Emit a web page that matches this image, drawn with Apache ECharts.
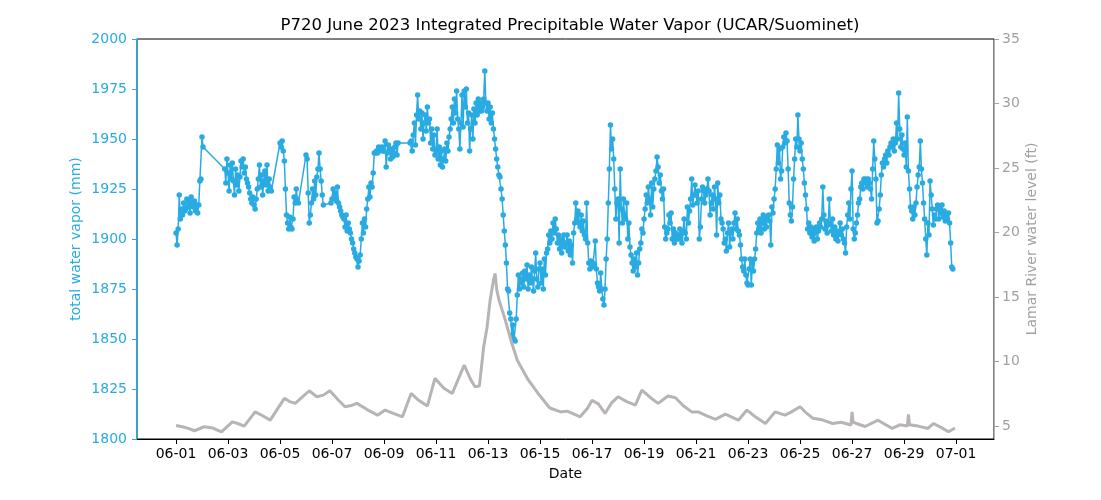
<!DOCTYPE html>
<html>
<head>
<meta charset="utf-8">
<script src="https://cdn.jsdelivr.net/npm/echarts@6/dist/echarts.min.js"></script>
<style>
  html, body { margin: 0; padding: 0; background: #fff; }
  #main { width: 1101px; height: 500px; }
</style>
</head>
<body>
<div id="main"></div>
<script>
  // hourly IPWV (mm), one row per day starting 2023-06-01 00:00, null = no data
  var pwvDays = [
    [1903, 1897, 1905, 1922, 1910, 1915, 1912, 1918, 1914, 1915, 1920, 1916, 1919, 1913, 1921, 1918, 1916, 1919, 1914, 1917, 1913, 1917, 1929, 1930], // 06-01
    [1951, 1946, null, null, null, null, null, null, null, null, null, null, null, null, null, null, null, null, null, null, null, 1935, 1928, 1940],
    [1933, 1924, 1937, 1930, 1938, 1929, 1922, 1935, 1927, 1932, 1924, 1931, 1939, 1936, 1940, 1933, 1936, 1930, 1928, 1926, 1923, 1920, 1918, 1921],
    [1917, 1915, 1920, 1925, 1930, 1937, 1926, 1932, 1922, 1929, 1934, 1927, 1937, 1924, 1930, 1926, 1924, null, null, null, null, null, null, null],
    [1948, 1946, 1949, 1944, 1939, 1925, 1912, 1908, 1905, 1911, 1906, 1905, 1910, 1921, 1918, 1925, 1920, 1918, null, null, null, null, null, null], // 06-05
    [1942, 1940, 1923, 1908, 1912, 1918, 1925, 1920, 1929, 1922, 1931, 1935, 1943, 1935, 1929, 1922, 1917, null, null, null, null, null, null, 1918],
    [1920, 1925, 1921, 1923, 1919, 1926, 1918, 1916, 1914, 1912, 1911, 1910, 1906, 1912, 1904, 1908, 1905, 1903, 1900, 1898, 1895, 1893, 1891, 1890],
    [1886, 1889, 1892, 1900, 1908, 1903, 1910, 1906, 1915, 1920, 1926, 1921, 1928, 1926, 1933, 1943, 1943, 1944, 1943, 1946, 1944, 1945, 1946, 1944],
    [1944, 1949, 1936, 1943, 1947, 1945, 1940, 1945, 1941, 1943, 1946, 1948, 1942, 1948, null, null, null, null, null, null, null, null, null, null],
    [1948, 1949, 1944, 1952, 1958, 1947, 1962, 1972, 1960, 1964, 1955, 1963, 1950, 1958, 1962, 1954, 1966, 1958, 1960, 1948, 1955, 1945, 1952, 1942], // 06-10
    [1944, 1955, 1940, 1946, 1937, 1944, 1936, 1940, 1945, 1939, 1948, 1944, 1951, 1955, 1960, 1966, 1958, 1970, 1963, 1974, 1960, 1955, 1945, 1958],
    [1972, 1956, 1974, 1966, 1975, 1958, 1963, 1944, 1955, 1962, 1950, 1965, 1958, 1968, 1962, 1970, 1964, 1968, 1964, 1966, 1970, 1984, 1968, 1964],
    [1968, 1960, 1966, 1958, 1963, 1955, 1950, 1945, 1940, 1936, 1932, 1931, 1925, 1920, 1912, 1904, 1897, 1888, 1875, 1874, 1863, 1860, 1852, 1857],
    [1850, 1849, 1860, 1872, 1882, 1875, 1880, 1878, 1883, 1876, 1884, 1880, 1887, 1875, 1882, 1878, 1886, 1880, 1874, 1884, 1893, 1880, 1876, 1885],
    [1888, 1878, 1885, 1875, 1890, 1882, 1893, 1895, 1902, 1898, 1904, 1900, 1908, 1903, 1910, 1905, 1898, 1902, 1895, 1900, 1893, 1898, 1902, 1896], // 06-15
    [1898, 1902, 1894, 1899, 1892, 1897, 1888, 1903, 1908, 1918, 1910, 1914, 1908, 1906, 1912, 1904, 1909, 1902, 1900, 1918, 1898, 1888, 1885, 1889],
    [1886, 1888, 1887, 1899, 1885, 1878, 1876, 1874, 1883, 1875, 1870, 1867, 1875, 1890, 1900, 1918, 1935, 1957, 1945, 1950, 1940, 1925, 1910, 1918],
    [1920, 1898, 1935, 1915, 1908, 1920, 1912, 1910, 1918, 1900, 1908, 1896, 1892, 1888, 1884, 1890, 1886, 1893, 1882, 1888, 1895, 1898, 1905, 1903],
    [1910, 1915, 1922, 1918, 1926, 1920, 1912, 1928, 1916, 1925, 1930, 1934, 1941, 1936, 1928, 1932, 1924, 1920, 1925, 1906, 1900, 1903, 1905, 1912],
    [1908, 1913, 1900, 1905, 1898, 1903, 1900, 1902, 1900, 1905, 1902, 1898, 1904, 1910, 1903, 1900, 1916, 1908, 1914, 1920, 1930, 1917, 1922, 1927], // 06-20
    [1922, 1918, 1924, 1900, 1906, 1920, 1926, 1924, 1918, 1922, 1925, 1930, 1924, 1912, 1918, 1922, 1915, 1926, 1920, 1902, 1928, 1918, 1922, 1910],
    [1908, 1905, 1898, 1900, 1894, 1903, 1908, 1896, 1903, 1905, 1900, 1908, 1913, 1905, 1910, 1904, 1902, 1897, 1890, 1886, 1884, 1890, 1882, 1878],
    [1877, 1885, 1890, 1877, 1888, 1884, 1890, 1895, 1903, 1908, 1905, 1910, 1903, 1908, 1912, 1905, 1910, 1906, 1911, 1912, 1909, 1897, 1916, 1913],
    [1920, 1925, 1935, 1947, 1938, 1945, 1930, 1934, 1946, 1951, 1948, 1953, 1949, 1935, 1918, 1912, 1909, 1916, 1930, 1940, 1950, 1946, 1962, 1950],
    [1944, 1948, 1940, 1935, 1928, 1922, 1915, 1905, 1908, 1903, 1906, 1901, 1905, 1899, 1903, 1906, 1900, 1904, 1908, 1906, 1910, 1926, 1912, 1905], // 06-25
    [1909, 1903, 1907, 1920, 1908, 1904, 1910, 1902, 1906, 1900, 1904, 1899, 1903, 1908, 1902, 1905, 1900, 1898, 1893, 1906, 1912, 1918, 1910, 1925],
    [1934, 1905, 1900, 1903, 1908, 1912, 1918, 1920, 1926, 1928, 1925, 1930, 1928, 1930, 1926, 1930, 1928, 1925, 1920, 1935, 1949, 1940, 1930, 1908],
    [1909, 1915, 1922, 1932, 1938, 1936, 1940, 1942, 1938, 1944, 1942, 1946, 1948, 1946, 1950, 1944, 1948, 1958, 1950, 1973, 1955, 1946, 1952, 1945],
    [1942, 1948, 1936, 1961, 1934, 1925, 1916, 1914, 1910, 1916, 1912, 1918, 1926, 1932, 1936, 1949, 1935, 1928, 1918, 1910, 1900, 1892, 1908, 1902],
    [1929, 1922, 1915, 1907, 1912, 1910, 1915, 1917, 1910, 1915, 1913, 1917, 1911, 1914, 1909, 1912, 1910, 1913, 1908, 1898, 1886, 1885] // 06-30
  ]

  // Lamar River gauge (ft), hours since 2023-06-01 00:00
  var riverHours = [0, 6, 12, 17, 26, 34, 42, 52, 57, 63, 73, 80, 87, 100, 105, 110, 123, 130, 136, 142,
    150, 156, 162, 167, 176, 186, 193, 200, 209, 217, 224, 232, 239, 247, 255, 266, 272, 276, 280, 284,
    287, 290, 293, 294.5, 296, 298, 304, 310, 315, 325, 334, 345, 355, 361, 368, 373, 380, 384, 390, 396,
    402, 408, 416, 424, 430, 438, 445, 454, 461, 468, 476, 482, 490, 498, 507, 513, 519, 527, 535, 544,
    553, 562, 568, 576, 582, 588, 596, 606, 614, 623, 624, 625, 636, 648, 655, 661, 668, 675, 676, 677,
    685, 694, 699, 706, 713, 719]
  var riverLevels = [5.05, 4.95, 4.8, 4.64, 4.95, 4.85, 4.56, 5.33, 5.2, 5.0, 6.1, 5.8, 5.46, 7.15, 6.9, 6.76, 7.74, 7.27, 7.4, 7.74,
    7.0, 6.5, 6.6, 6.76, 6.3, 5.85, 6.24, 6.0, 5.72, 7.53, 7.0, 6.55, 8.7, 7.95, 7.53, 9.73, 8.6, 8.05, 8.1, 11.15,
    12.6, 14.8, 16.3, 16.84, 15.6, 14.8, 13.2, 11.4, 10.1, 8.6, 7.55, 6.4, 6.1, 6.16, 5.9, 5.72, 6.4, 7.0, 6.7, 5.98,
    6.8, 7.27, 6.9, 6.63, 7.79, 7.2, 6.76, 7.33, 7.2, 6.6, 6.1, 6.1, 5.8, 5.52, 5.93, 5.7, 5.46, 6.24, 5.7, 5.2,
    6.1, 5.85, 6.1, 6.5, 6.0, 5.6, 5.5, 5.2, 5.3, 5.08, 6.1, 5.3, 4.97, 5.46, 5.1, 4.82, 5.1, 5.0, 5.9, 5.1,
    5.0, 4.82, 5.2, 4.9, 4.56, 4.85]

  var dateTicks = [0, 48, 96, 144, 192, 240, 288, 336, 384, 432, 480, 528, 576, 624, 672, 720]
  var riverTicks = [5, 10, 15, 20, 25, 30, 35]

  var BLUE = '#29abe2'
  var GREY = '#b8b4b4'
  var GREY_TEXT = '#a3a0a0'
  var FONT = 'DejaVu Sans'
  var START = Date.UTC(2023, 5, 1)

  function pad (n) { return n < 10 ? '0' + n : '' + n }
  function fmtDate (h) {
    var d = new Date(START + h * 3600e3)
    return pad(d.getUTCMonth() + 1) + '-' + pad(d.getUTCDate())
  }

  var pwvData = []
  pwvDays.forEach(function (row, d) {
    row.forEach(function (v, k) { pwvData.push([d * 24 + k, v]) })
  })
  var riverData = riverHours.map(function (h, i) { return [h, riverLevels[i]] })

  var chart = echarts.init(document.getElementById('main'))
  var option = {
    animation: false,
    backgroundColor: '#fff',
    title: {
      text: 'P720 June 2023 Integrated Precipitable Water Vapor (UCAR/Suominet)',
      left: 565,
      top: 12,
      textAlign: 'center',
      textStyle: { fontFamily: FONT, fontSize: 16.5, fontWeight: 'normal', color: '#000' }
    },
    grid: {
      left: 137, right: 107, top: 39, bottom: 61,
      show: true, borderColor: '#000', borderWidth: 1
    },
    xAxis: {
      type: 'value',
      min: -36,
      max: 755,
      name: 'Date',
      nameLocation: 'middle',
      nameGap: 28,
      nameTextStyle: { fontFamily: FONT, fontSize: 14, color: '#000' },
      axisLine: { show: true, onZero: false, lineStyle: { color: '#000', width: 1 } },
      axisTick: { show: true, length: 5, customValues: dateTicks, lineStyle: { color: '#000' } },
      axisLabel: { customValues: dateTicks, formatter: fmtDate, fontFamily: FONT, fontSize: 14, color: '#000', margin: 8 },
      splitLine: { show: false }
    },
    yAxis: [
      {
        type: 'value',
        min: 1800,
        max: 2000,
        interval: 25,
        position: 'left',
        name: 'total water vapor (mm)',
        nameLocation: 'middle',
        nameGap: 54,
        nameRotate: 90,
        nameMoveOverlap: false,
        nameTextStyle: { fontFamily: FONT, fontSize: 14, color: BLUE },
        axisLine: { show: true, onZero: false, lineStyle: { color: BLUE, width: 1.5 } },
        axisTick: { show: true, length: 5, lineStyle: { color: BLUE } },
        axisLabel: { formatter: function (v) { return String(v) }, fontFamily: FONT, fontSize: 14, color: BLUE, margin: 10 },
        splitLine: { show: false }
      },
      {
        type: 'value',
        min: 4,
        max: 35,
        position: 'right',
        name: 'Lamar River water level (ft)',
        nameLocation: 'middle',
        nameGap: 31,
        nameRotate: 90,
        nameMoveOverlap: false,
        nameTextStyle: { fontFamily: FONT, fontSize: 14, color: GREY_TEXT },
        axisLine: { show: true, onZero: false, lineStyle: { color: GREY, width: 1 } },
        axisTick: { show: true, length: 5, customValues: riverTicks, lineStyle: { color: GREY_TEXT } },
        axisLabel: { customValues: riverTicks, fontFamily: FONT, fontSize: 14, color: GREY_TEXT, margin: 8 },
        splitLine: { show: false }
      }
    ],
    series: [
      {
        name: 'IPWV',
        type: 'line',
        yAxisIndex: 0,
        data: pwvData,
        connectNulls: true,
        symbol: 'circle',
        symbolSize: 5.5,
        showSymbol: true,
        itemStyle: { color: BLUE },
        lineStyle: { color: BLUE, width: 1.5 },
        z: 2
      },
      {
        name: 'River',
        type: 'line',
        yAxisIndex: 1,
        data: riverData,
        showSymbol: false,
        symbol: 'none',
        lineStyle: { color: GREY, width: 3 },
        z: 3
      }
    ]
  }
  chart.setOption(option)
</script>
</body>
</html>
